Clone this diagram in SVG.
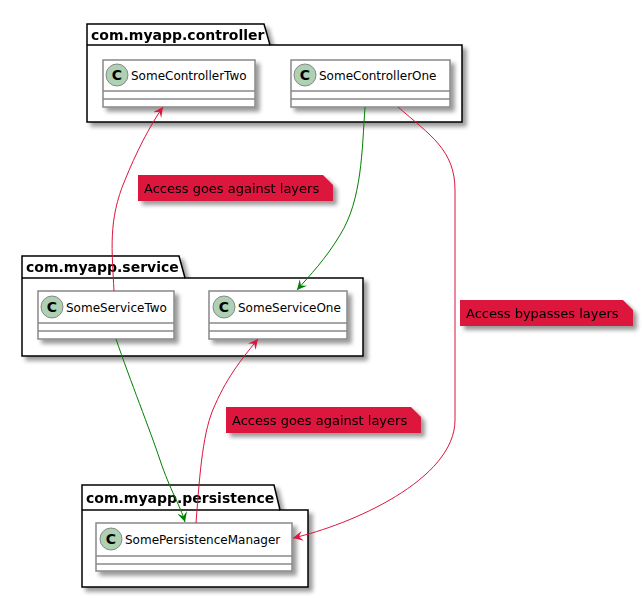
<svg xmlns="http://www.w3.org/2000/svg" width="643" height="598" viewBox="0 0 643 598">
<style>
.pkg{fill:#fff;stroke:#000;stroke-width:1.5}
.pt{font-family:"DejaVu Sans",sans-serif;font-size:14px;font-weight:bold;fill:#000}
.cls{fill:#fff;stroke:#888;stroke-width:1.5}
.ln{stroke:#888;stroke-width:1.5}
.ic{fill:#ADD1B2;stroke:#888;stroke-width:1}
.ict{font-family:"DejaVu Sans",sans-serif;font-size:14px;font-weight:bold;fill:#000;text-anchor:middle}
.ct{font-family:"DejaVu Sans",sans-serif;font-size:12px;fill:#000}
.note{fill:#DC143C}
.nt{font-family:"DejaVu Sans",sans-serif;font-size:13px;fill:#000}
.g{fill:none;stroke:#008000;stroke-width:1}
.r{fill:none;stroke:#DC143C;stroke-width:1}
</style>
<defs>
<filter id="sh" x="-10%" y="-10%" width="130%" height="140%"><feGaussianBlur in="SourceAlpha" stdDeviation="2"/><feOffset dx="4" dy="4"/><feComponentTransfer><feFuncA type="linear" slope="0.4"/></feComponentTransfer><feMerge><feMergeNode/><feMergeNode in="SourceGraphic"/></feMerge></filter>
<marker id="ag" markerWidth="12" markerHeight="10" refX="10" refY="5" orient="auto" markerUnits="userSpaceOnUse"><path d="M0,0 L10,5 L0,10 L4,5 Z" fill="#008000"/></marker>
<marker id="ar" markerWidth="12" markerHeight="10" refX="10" refY="5" orient="auto" markerUnits="userSpaceOnUse"><path d="M0,0 L10,5 L0,10 L4,5 Z" fill="#DC143C"/></marker>
</defs>
<g id="pkg-controller" filter="url(#sh)">
<path class="pkg" d="M87,24 H264 L270,45 H462 V122 H87 Z"/><line x1="87" y1="45" x2="270" y2="45" stroke="#000" stroke-width="1.5"/>
<text class="pt" x="91" y="40">com.myapp.controller</text>
</g>
<g id="pkg-service" filter="url(#sh)">
<path class="pkg" d="M22,256 H179 L185,278 H363 V356 H22 Z"/><line x1="22" y1="278" x2="185" y2="278" stroke="#000" stroke-width="1.5"/>
<text class="pt" x="26" y="272">com.myapp.service</text>
</g>
<g id="pkg-persistence" filter="url(#sh)">
<path class="pkg" d="M82,485 H274 L280,510 H308 V587 H82 Z"/><line x1="82" y1="510" x2="280" y2="510" stroke="#000" stroke-width="1.5"/>
<text class="pt" x="86" y="503">com.myapp.persistence</text>
</g>
<g id="SomeControllerTwo"><rect class="cls" x="103" y="60" width="152" height="47" filter="url(#sh)"/><line class="ln" x1="103" y1="91" x2="255" y2="91"/><line class="ln" x1="103" y1="99" x2="255" y2="99"/><circle class="ic" cx="117" cy="75" r="11"/><text class="ict" x="117" y="80">C</text><text class="ct" x="131" y="80">SomeControllerTwo</text></g>
<g id="SomeControllerOne"><rect class="cls" x="291" y="60" width="159" height="47" filter="url(#sh)"/><line class="ln" x1="291" y1="91" x2="450" y2="91"/><line class="ln" x1="291" y1="99" x2="450" y2="99"/><circle class="ic" cx="305" cy="75" r="11"/><text class="ict" x="305" y="80">C</text><text class="ct" x="319" y="80">SomeControllerOne</text></g>
<g id="SomeServiceTwo"><rect class="cls" x="38" y="291" width="136" height="48" filter="url(#sh)"/><line class="ln" x1="38" y1="323" x2="174" y2="323"/><line class="ln" x1="38" y1="331" x2="174" y2="331"/><circle class="ic" cx="52" cy="307" r="11"/><text class="ict" x="52" y="312">C</text><text class="ct" x="66" y="312">SomeServiceTwo</text></g>
<g id="SomeServiceOne"><rect class="cls" x="209" y="291" width="138" height="48" filter="url(#sh)"/><line class="ln" x1="209" y1="323" x2="347" y2="323"/><line class="ln" x1="209" y1="331" x2="347" y2="331"/><circle class="ic" cx="224" cy="307" r="11"/><text class="ict" x="224" y="312">C</text><text class="ct" x="238" y="312">SomeServiceOne</text></g>
<g id="SomePersistenceManager"><rect class="cls" x="96" y="523" width="196" height="48" filter="url(#sh)"/><line class="ln" x1="96" y1="556" x2="292" y2="556"/><line class="ln" x1="96" y1="564" x2="292" y2="564"/><circle class="ic" cx="111" cy="539" r="11"/><text class="ict" x="111" y="544">C</text><text class="ct" x="125" y="544">SomePersistenceManager</text></g>
<g id="connectors">
<path class="g" d="M365,107 C362,150 362,200 340,235 C325,260 310,275 297,290" marker-end="url(#ag)"/>
<path class="r" d="M398,107 C430,135 455,150 455,190 L455,420 C455,480 350,525 293,538" marker-end="url(#ar)"/>
<path class="r" d="M114,291 C112,250 108,220 125,180 C135,155 150,125 163,107" marker-end="url(#ar)"/>
<path class="g" d="M116,339 C130,380 150,430 160,460 C170,490 180,505 185,522" marker-end="url(#ag)"/>
<path class="r" d="M196,523 C200,470 203,430 215,405 C228,375 245,355 258,339" marker-end="url(#ar)"/>
</g>
<g id="note1" filter="url(#sh)"><path class="note" d="M138,175 H323 L333,185 V201 H138 Z"/><text class="nt" x="144" y="193">Access goes against layers</text></g>
<g id="note2" filter="url(#sh)"><path class="note" d="M460,300 H623 L633,310 V326 H460 Z"/><text class="nt" x="466" y="318">Access bypasses layers</text></g>
<g id="note3" filter="url(#sh)"><path class="note" d="M226,407 H411 L421,417 V433 H226 Z"/><text class="nt" x="232" y="425">Access goes against layers</text></g>
</svg>
